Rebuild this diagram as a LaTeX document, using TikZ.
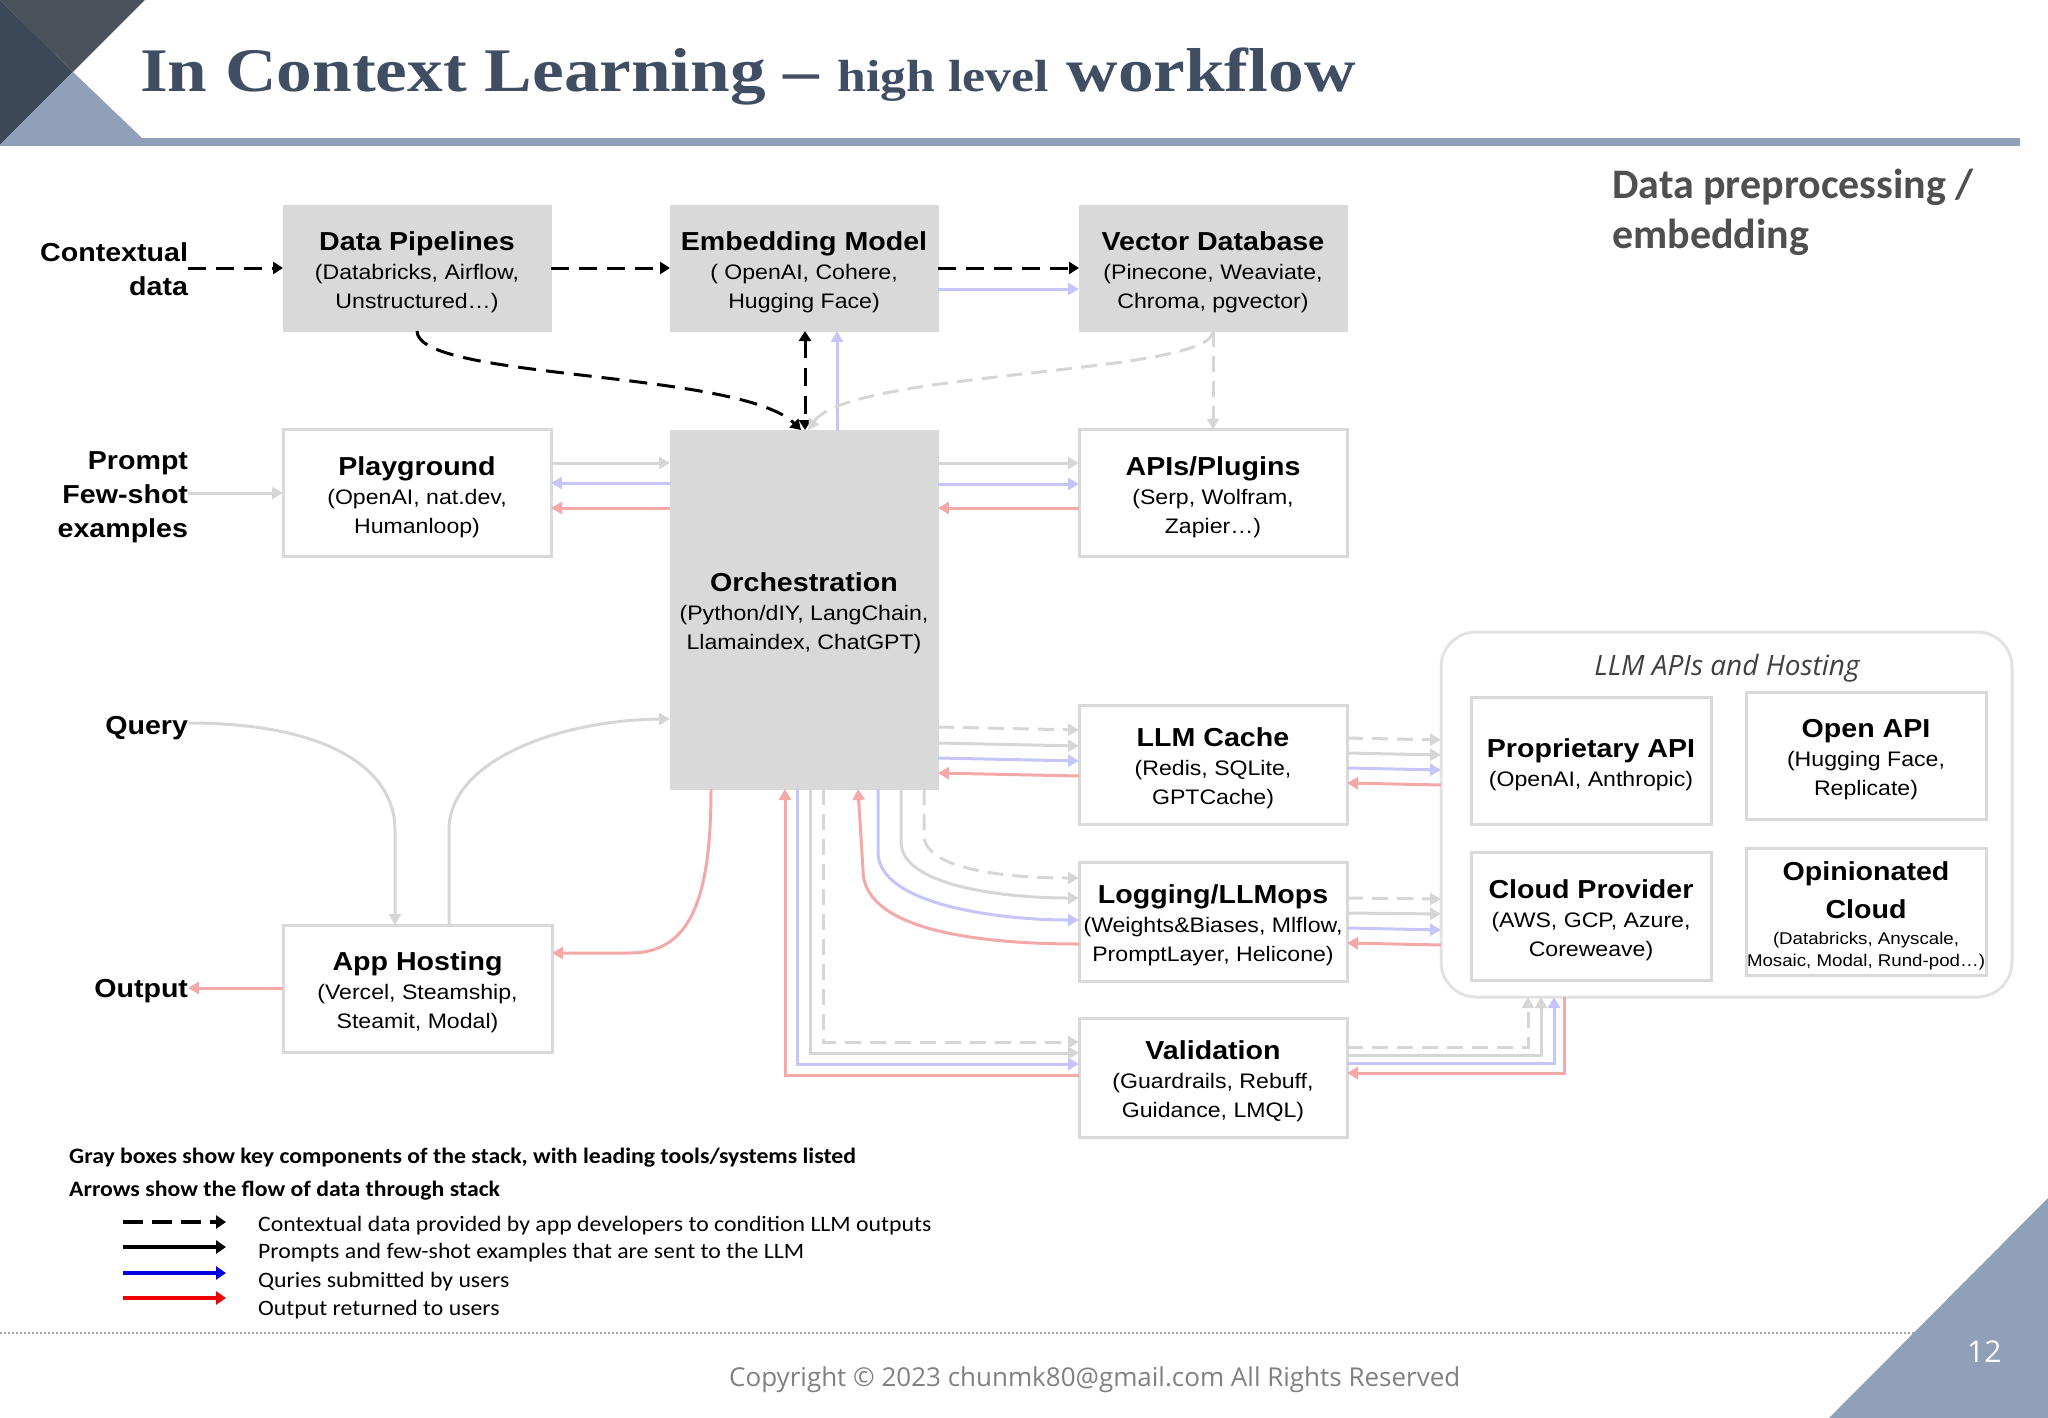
\documentclass[tikz,border=0pt]{standalone}
\usepackage{fontspec}
\setmainfont{Liberation Sans}[FakeStretch=1.1]
\newfontfamily\headfont{Liberation Serif}[FakeStretch=1.15]
\newfontfamily\notefont{Carlito}[FakeStretch=1.08]
\newfontfamily\stagefont{Carlito}
\newfontfamily\slidefont{Open Sans}
\usetikzlibrary{arrows.meta}

\definecolor{boxgray}{RGB}{217,217,217}
\definecolor{linegray}{RGB}{214,214,214}
\definecolor{lavender}{RGB}{197,197,250}
\definecolor{pinkred}{RGB}{245,168,168}
\definecolor{hostgray}{RGB}{226,226,226}
\definecolor{titleblue}{RGB}{64,78,99}
\definecolor{hdark}{RGB}{74,82,92}
\definecolor{hdeep}{RGB}{60,71,87}
\definecolor{hlight}{RGB}{143,160,184}
\definecolor{legblue}{RGB}{0,0,225}
\definecolor{legred}{RGB}{238,0,0}

\newcommand{\boxtitle}[1]{{\bfseries\fontsize{26}{30}\selectfont\rule{0pt}{27pt}#1}}

\begin{document}
\begin{tikzpicture}[x=1pt,y=-1pt]
    \tikzstyle{comp}=[fill=boxgray,draw=boxgray,line width=1pt,minimum width=268pt,minimum height=126pt,align=center,inner sep=0pt,outer sep=0pt,font=\fontsize{21}{29}\selectfont]
    \tikzstyle{tool}=[comp,fill=white,line width=3pt]
    \tikzstyle{hostbox}=[tool,minimum width=240pt,minimum height=127pt]
    \tikzstyle{rowlabel}=[align=right,inner sep=0pt,outer sep=0pt,font=\bfseries\fontsize{26}{34}\selectfont]
    \tikzstyle{ctxarrow}=[draw=black,line width=3pt,dash pattern=on 18pt off 10pt,-{Triangle[length=10pt,width=12pt]}]
    \tikzstyle{grayctx}=[draw=linegray,line width=3pt,dash pattern=on 16pt off 9pt,-{Triangle[length=11pt,width=12pt]}]
    \tikzstyle{parrow}=[draw=linegray,line width=3pt,-{Triangle[length=11pt,width=12pt]}]
    \tikzstyle{qarrow}=[draw=lavender,line width=3pt,-{Triangle[length=11pt,width=12pt]}]
    \tikzstyle{oarrow}=[draw=pinkred,line width=3pt,-{Triangle[length=11pt,width=12pt]}]
    \tikzstyle{legtext}=[anchor=base west,inner sep=0pt,font=\notefont\fontsize{22}{26}\selectfont]
    \tikzstyle{legline}=[line width=3.5pt,-{Triangle[length=10pt,width=13pt]}]

    \useasboundingbox (0,0) rectangle (2048,1418);

    % header
    \fill[hlight] (0,138) rectangle (2020,146);
    \fill[hdark] (0,0) -- (145,0) -- (73,72) -- cycle;
    \fill[hdeep] (0,0) -- (73,72) -- (0,145) -- cycle;
    \fill[hlight] (73,72) -- (142,138) -- (0,145) -- cycle;
    \node (title)[anchor=base west,inner sep=0pt,text=titleblue] at (140,92) {\headfont\bfseries\fontsize{62}{62}\selectfont In Context Learning – {\fontsize{45}{45}\selectfont high level} workflow};
    \node (stage)[anchor=west,align=left,inner sep=0pt,text=black!69,font=\stagefont\bfseries\fontsize{42}{50}\selectfont] at (1612,212) {Data preprocessing /\\embedding};

    % row labels
    \node (ctx)[rowlabel,anchor=east] at (188,269) {Contextual\\data};
    \node (prompt)[rowlabel,anchor=east] at (188,497) {Prompt\\Few-shot\\examples};
    \node (query)[rowlabel,anchor=east] at (188,728) {Query};
    \node (output)[rowlabel,anchor=east] at (188,991) {Output};

    % components
    \node (dp)[comp] at (417,268) {\boxtitle{Data Pipelines}\\(Databricks, Airflow,\\Unstructured…)};
    \node (emb)[comp] at (804,268) {\boxtitle{Embedding Model}\\( OpenAI, Cohere,\\Hugging Face)};
    \node (vdb)[comp] at (1213,268) {\boxtitle{Vector Database}\\(Pinecone, Weaviate,\\Chroma, pgvector)};
    \node (play)[tool,minimum height=127pt] at (417,493) {\boxtitle{Playground}\\(OpenAI, nat.dev,\\Humanloop)};
    \node (orch)[comp,minimum height=359pt] at (804,609.5) {\boxtitle{Orchestration}\\(Python/dIY, LangChain,\\Llamaindex, ChatGPT)};
    \node (apis)[tool,minimum height=127pt] at (1213,493) {\boxtitle{APIs/Plugins}\\(Serp, Wolfram,\\Zapier…)};
    \node (cache)[tool,minimum height=119pt] at (1213,764.5) {\boxtitle{LLM Cache}\\(Redis, SQLite,\\GPTCache)};
    \node (logg)[tool,minimum height=119pt] at (1213,921.5) {\boxtitle{Logging/LLMops}\\(Weights\&Biases, Mlflow,\\PromptLayer, Helicone)};
    \node (valid)[tool,minimum height=119pt] at (1213,1077.5) {\boxtitle{Validation}\\(Guardrails, Rebuff,\\Guidance, LMQL)};
    \node (app)[tool,minimum width=269pt,minimum height=127pt] at (417.5,988.5) {\boxtitle{App Hosting}\\(Vercel, Steamship,\\Steamit, Modal)};

    % LLM APIs and hosting
    \node (host)[draw=hostgray,line width=3pt,rounded corners=35pt,minimum width=571pt,minimum height=365pt,inner sep=0pt,outer sep=0pt] at (1726.5,814.5) {};
    \node (hosttitle)[anchor=base,inner sep=0pt,text=black!75] at (1727,675) {\slidefont\itshape\fontsize{28}{30}\selectfont LLM APIs and Hosting};
    \node (prop)[hostbox] at (1591,760.5) {\boxtitle{Proprietary API}\\(OpenAI, Anthropic)};
    \node (open)[hostbox] at (1866,755.5) {\boxtitle{Open API}\\(Hugging Face,\\Replicate)};
    \node (cloud)[hostbox,minimum height=128pt] at (1591,916) {\boxtitle{Cloud Provider}\\(AWS, GCP, Azure,\\Coreweave)};
    \node (opin)[hostbox,font=\fontsize{17}{22}\selectfont] at (1866,911.5) {\boxtitle{Opinionated}\\[13pt]{\bfseries\fontsize{26}{30}\selectfont Cloud}\\[4pt](Databricks, Anyscale,\\Mosaic, Modal, Rund-pod…)};

    % contextual data
    \draw[ctxarrow] (ctx.east |- dp.west) -- (dp.west);
    \draw[ctxarrow] (dp.east) -- (emb.west);
    \draw[ctxarrow] (emb.east) -- (vdb.west);
    \draw[qarrow] (emb.east |- 0,289) -- (vdb.west |- 0,289);
    \draw[ctxarrow] (dp.south) .. controls (417,380) and (740,370) .. (orch.north -| 801,0);
    \draw[ctxarrow,{Triangle[length=10pt,width=12pt]}-{Triangle[length=10pt,width=12pt]}] (emb.south -| 805,0) -- (orch.north -| 805,0);
    \draw[qarrow] (orch.north -| 837,0) -- (emb.south -| 837,0);
    \draw[grayctx] (vdb.south) .. controls (1213,375) and (850,370) .. (orch.north -| 808,0);
    \draw[grayctx] (vdb.south) -- (apis.north);

    % prompts
    \draw[parrow] (prompt.east |- 0,493) -- (play.west |- 0,493);
    \draw[parrow] (play.east |- 0,463) -- (orch.west |- 0,463);
    \draw[qarrow] (orch.west |- 0,483) -- (play.east |- 0,483);
    \draw[oarrow] (orch.west |- 0,508) -- (play.east |- 0,508);
    \draw[parrow] (orch.east |- 0,463) -- (apis.west |- 0,463);
    \draw[qarrow] (orch.east |- 0,484) -- (apis.west |- 0,484);
    \draw[oarrow] (apis.west |- 0,508) -- (orch.east |- 0,508);

    % query and output
    \draw[parrow] (query.east |- 0,723) .. controls (330,723) and (395,770) .. (395,830) -- (app.north -| 395,0);
    \draw[parrow] (app.north -| 449,0) -- (449,830) .. controls (449,760) and (560,720) .. (orch.west |- 0,719);
    \draw[oarrow] (orch.south -| 711,0) .. controls (711,900) and (690,953) .. (630,953) -- (app.east |- 0,953);
    \draw[oarrow] (app.west |- 0,988) -- (output.east |- 0,988);

    % cache
    \draw[grayctx] (orch.east |- 0,727) -- (cache.west |- 0,730);
    \draw[parrow] (orch.east |- 0,743) -- (cache.west |- 0,746);
    \draw[qarrow] (orch.east |- 0,758) -- (cache.west |- 0,761);
    \draw[oarrow] (cache.west |- 0,776) -- (orch.east |- 0,773);
    \draw[grayctx] (cache.east |- 0,738) -- (host.west |- 0,740);
    \draw[parrow] (cache.east |- 0,753) -- (host.west |- 0,755);
    \draw[qarrow] (cache.east |- 0,768) -- (host.west |- 0,770);
    \draw[oarrow] (host.west |- 0,785) -- (cache.east |- 0,783);

    % logging
    \draw[grayctx] (orch.south -| 924,0) -- (924,835) .. controls (924,868) and (1000,878) .. (logg.west |- 0,878);
    \draw[parrow] (orch.south -| 901,0) -- (901,842) .. controls (901,885) and (1000,898) .. (logg.west |- 0,898);
    \draw[qarrow] (orch.south -| 878,0) -- (878,852) .. controls (878,905) and (1000,920) .. (logg.west |- 0,920);
    \draw[oarrow] (logg.west |- 0,944) .. controls (960,944) and (863,925) .. (863,870) -- (orch.south -| 858,0);
    \draw[grayctx] (logg.east |- 0,898) -- (host.west |- 0,899);
    \draw[parrow] (logg.east |- 0,913) -- (host.west |- 0,914);
    \draw[qarrow] (logg.east |- 0,928) -- (host.west |- 0,930);
    \draw[oarrow] (host.west |- 0,945) -- (logg.east |- 0,943);

    % validation
    \draw[grayctx] (orch.south -| 823,0) -- (823,1042) -- (valid.west |- 0,1042);
    \draw[parrow] (orch.south -| 810,0) -- (810,1053) -- (valid.west |- 0,1053);
    \draw[qarrow] (orch.south -| 797,0) -- (797,1064) -- (valid.west |- 0,1064);
    \draw[oarrow] (valid.west |- 0,1075) -- (785,1075) -- (orch.south -| 785,0);
    \draw[grayctx] (valid.east |- 0,1047) -- (1528,1047) -- (host.south -| 1528,0);
    \draw[parrow] (valid.east |- 0,1055) -- (1541,1055) -- (host.south -| 1541,0);
    \draw[qarrow] (valid.east |- 0,1063) -- (1554,1063) -- (host.south -| 1554,0);
    \draw[oarrow] (host.south -| 1564,0) -- (1564,1073) -- (valid.east |- 0,1073);

    % legend
    \node (note1)[legtext,font=\notefont\bfseries\fontsize{22}{26}\selectfont] at (69,1163) {Gray boxes show key components of the stack, with leading tools/systems listed};
    \node (note2)[legtext,font=\notefont\bfseries\fontsize{22}{26}\selectfont] at (69,1196) {Arrows show the flow of data through stack};
    \node (leg1)[legtext] at (258,1231) {Contextual data provided by app developers to condition LLM outputs};
    \node (leg2)[legtext] at (258,1258) {Prompts and few-shot examples that are sent to the LLM};
    \node (leg3)[legtext] at (258,1287) {Quries submitted by users};
    \node (leg4)[legtext] at (258,1315) {Output returned to users};
    \coordinate (la1) at (leg1.west |- 0,1222);
    \coordinate (la2) at (leg2.west |- 0,1247);
    \coordinate (la3) at (leg3.west |- 0,1273);
    \coordinate (la4) at (leg4.west |- 0,1298);
    \draw[legline,draw=black,dash pattern=on 20pt off 9pt] ([xshift=-135pt]la1) -- ([xshift=-32pt]la1);
    \draw[legline,draw=black] ([xshift=-135pt]la2) -- ([xshift=-32pt]la2);
    \draw[legline,draw=legblue] ([xshift=-135pt]la3) -- ([xshift=-32pt]la3);
    \draw[legline,draw=legred] ([xshift=-135pt]la4) -- ([xshift=-32pt]la4);

    % footer
    \draw[black!35,line width=1.5pt,dash pattern=on 2pt off 2pt] (0,1333) -- (1914,1333);
    \fill[hlight] (2048,1198) -- (2048,1418) -- (1829,1418) -- cycle;
    \node (page)[anchor=base west,inner sep=0pt,text=white] at (1967,1362) {\slidefont\fontsize{30}{30}\selectfont 12};
    \node (copy)[anchor=base west,inner sep=0pt,text=black!50] at (729,1386) {\slidefont\fontsize{26}{26}\selectfont Copyright © 2023 chunmk80@gmail.com All Rights Reserved};
\end{tikzpicture}
\end{document}
